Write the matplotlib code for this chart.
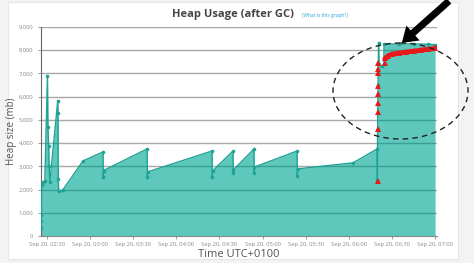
import numpy as np
import pandas as pd
import matplotlib
matplotlib.use("Agg")
import matplotlib.pyplot as plt
import matplotlib.dates as mdates
from matplotlib.patches import Ellipse, FancyArrow, FancyBboxPatch
from matplotlib.ticker import FuncFormatter

plt.rcParams['font.family'] = ['Open Sans', 'DejaVu Sans']

DAY = "2019-09-20 "

# heap usage after GC (teal series)
heap_times = [
    "02:25:50", "02:26:00", "02:26:10", "02:26:30", "02:27:10", "02:28:30",
    "02:30:20", "02:30:40", "02:31:10", "02:31:30", "02:32:00",
    "02:37:30", "02:37:40", "02:37:50", "02:38:10", "02:41:00",
    "02:55:00", "03:09:00", "03:09:10", "03:09:20",
    "03:39:40", "03:39:50", "03:40:00",
    "04:24:50", "04:25:00", "04:25:10",
    "04:39:25", "04:39:35", "04:39:45",
    "04:54:00", "04:54:10", "04:54:20",
    "05:24:00", "05:24:10", "05:24:20",
    "06:03:00", "06:19:40", "06:19:50", "06:20:00", "06:20:05", "06:20:10",
    "06:20:15", "06:20:20", "06:20:25", "06:20:30", "06:20:40", "06:21:00",
    "06:23:00", "06:24:20", "06:24:30", "06:35:00", "06:45:00", "06:55:00",
    "07:00:00",
]
heap_mb = [
    350, 650, 900, 2200, 2330, 2350,
    6900, 4700, 3880, 3000, 2330,
    5830, 5310, 2450, 1930, 1980,
    3230, 3620, 2540, 2820,
    3750, 2540, 2760,
    3660, 2540, 2800,
    3660, 2700, 2850,
    3750, 2700, 2970,
    3660, 2580, 2890,
    3150, 3750, 2400, 4600, 5300, 5700,
    6100, 6500, 7000, 7200, 8320, 7400,
    7300, 7400, 8280, 8260, 8270, 8260,
    8240,
]

# highlighted points (red triangles)
red_times = [
    "06:20:00", "06:20:00", "06:20:00", "06:20:00", "06:20:00",
    "06:20:00", "06:20:00", "06:20:00", "06:20:00", "06:25:00",
]
red_mb = [2370, 4610, 5340, 5730, 6120, 6470, 7030, 7200, 7460, 7460]

# red band along the top
band_times = [
    "06:25:30", "06:27:00", "06:30:00", "06:35:00", "06:40:00",
    "06:45:00", "06:50:00", "06:55:00", "07:00:00",
]
band_mb = [7650, 7750, 7830, 7880, 7920, 7960, 8000, 8040, 8080]

y_ticks = [0, 1000, 2000, 3000, 4000, 5000, 6000, 7000, 8000, 9000]

to_dt = lambda ts: pd.to_datetime([DAY + t for t in ts])
ht = to_dt(heap_times)
rt = to_dt(red_times)
bt = to_dt(band_times)

teal_fill = "#5ec8bd"
teal_line = "#1fa394"

fig = plt.figure(figsize=(4.74, 2.63), dpi=100, facecolor="#f3f3f3")

# white card behind the chart
bg = fig.add_axes([0, 0, 1, 1], zorder=-5)
bg.set_xlim(0, 474); bg.set_ylim(263, 0); bg.axis("off")
bg.add_patch(FancyBboxPatch((8, 2), 450, 257, boxstyle="square,pad=0",
                            facecolor="white", edgecolor="#e6e6e6", lw=0.8))

ax = fig.add_axes([41 / 474, 1 - 236 / 263, 396 / 474, 209 / 263])
ax.set_facecolor("none")

for y in y_ticks[1:]:
    ax.axhline(y, color="#a8a8a8", lw=1.0, zorder=0)

poly = ax.fill_between(ht, 0, heap_mb, color=teal_fill, lw=0, zorder=1)
grid_in = ax.hlines(y_ticks[1:], ht[0], ht[-1], color="#3aa096", lw=1.0, zorder=2)
grid_in.set_clip_path(poly.get_paths()[0], ax.transData)

ax.plot(ht, heap_mb, color=teal_line, lw=1.0, marker="o", ms=2.6,
        markeredgewidth=0, zorder=3)

ax.plot(rt, red_mb, ls="none", marker="^", ms=4.5, color="#e8191c",
        markeredgewidth=0, zorder=4)
ax.plot(bt, band_mb, color="#e8191c", lw=3.5, marker="^", ms=4,
        markeredgewidth=0, zorder=4)

ax.set_xlim(pd.Timestamp(DAY + "02:25:50"), pd.Timestamp(DAY + "07:01:20"))
ax.set_ylim(0, 9000)
ax.set_yticks(y_ticks)
ax.yaxis.set_major_formatter(FuncFormatter(lambda v, p: f"{int(v):,}"))
ax.xaxis.set_major_locator(mdates.MinuteLocator(byminute=[0, 30]))
ax.xaxis.set_major_formatter(mdates.DateFormatter("%b %d, %H:%M"))
ax.tick_params(axis="both", labelsize=4.2, colors="#8a8a8a", length=2.5,
               width=0.6, pad=1.5)
ax.tick_params(axis="y", pad=3)

for s in ["top", "right"]:
    ax.spines[s].set_visible(False)
ax.spines["left"].set_color("#666666")
ax.spines["bottom"].set_color("#888888")
ax.spines["left"].set_linewidth(0.8)
ax.spines["bottom"].set_linewidth(0.8)

ax.set_xlabel("Time UTC+0100", fontsize=8, color="#555555", labelpad=2)
ax.set_ylabel("Heap size (mb)", fontsize=7, color="#555555")
ax.yaxis.set_label_coords((17 - 41) / 396, 0.5)

fig.text(233 / 474, 1 - 15 / 263, "Heap Usage (after GC)", ha="center",
         va="center", fontsize=8, fontweight="bold", color="#444444")
fig.text(302 / 474, 1 - 15 / 263, "(What is this graph?)", ha="left",
         va="center", fontsize=3.5, color="#2aa3d8")

# annotation layer
ov = fig.add_axes([0, 0, 1, 1], zorder=10)
ov.set_xlim(0, 474); ov.set_ylim(263, 0); ov.axis("off")
ov.add_patch(Ellipse((400.5, 91), 135, 96, fill=False, ls=(0, (4, 3)),
                     lw=1.0, edgecolor="#222222"))
ov.add_patch(FancyArrow(449, 1, -36, 32, width=7, head_width=20,
                        head_length=15, length_includes_head=False,
                        color="black", lw=0))

fig.savefig("out.png", dpi=100, facecolor=fig.get_facecolor())
